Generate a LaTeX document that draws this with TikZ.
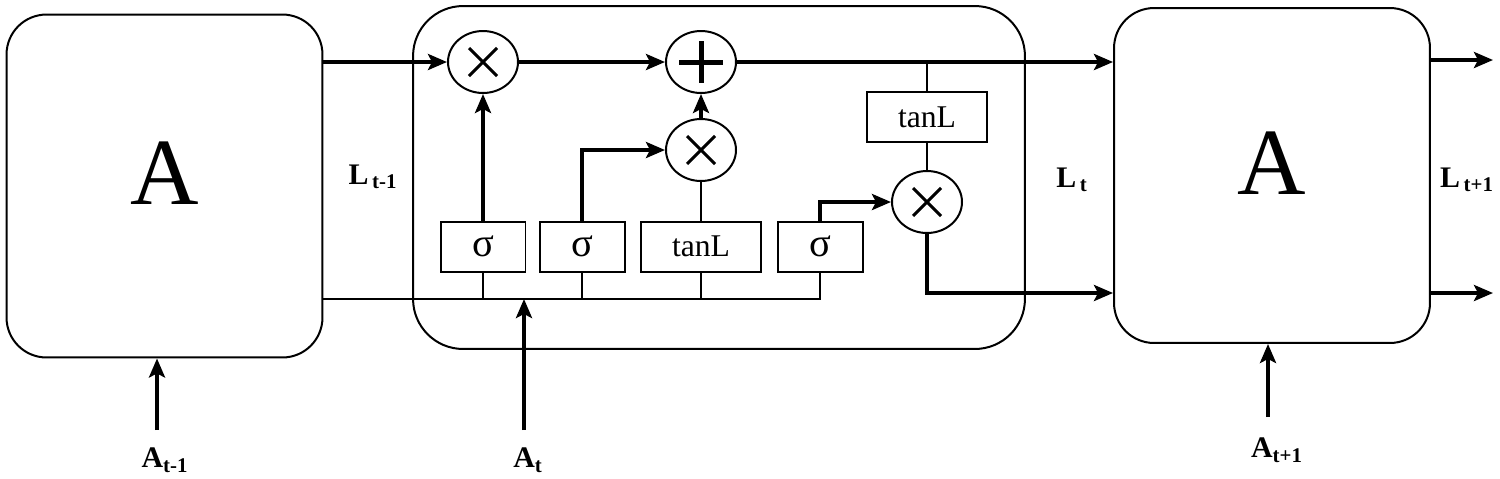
\documentclass[tikz,border=0pt]{standalone}
\usepackage{fontspec}
\setmainfont{Liberation Serif}
\usetikzlibrary{positioning,arrows.meta,shapes.geometric}

\tikzset{
  cell/.style={rectangle, rounded corners=0.8cm, draw, line width=0.04cm, minimum width=6.32cm, minimum height=6.86cm, text depth=0.5cm, font=\fontsize{54}{60}\selectfont},
  gate/.style={rectangle, draw, line width=0.04cm, inner sep=0pt, minimum height=1cm, minimum width=1.7cm, font=\fontsize{23}{25}\selectfont},
  tanbox/.style={gate, minimum width=2.4cm, font=\fontsize{18}{20}\selectfont},
  opnode/.style={ellipse, draw, line width=0.04cm, inner sep=0pt, minimum width=1.4cm, minimum height=1.24cm},
  mulop/.style={opnode, path picture={\draw[line width=0.06cm] (path picture bounding box.center) +(-14,-14) -- +(14,14) +(-14,14) -- +(14,-14);}},
  addop/.style={opnode, path picture={\draw[line width=0.1cm] (path picture bounding box.center) +(-22,0) -- +(22,0) +(0,-21) -- +(0,21);}},
  lbl/.style={font=\fontsize{17}{20}\selectfont\bfseries},
  thinline/.style={line width=0.04cm},
  thickarrow/.style={line width=0.08cm, ->},
}

\begin{document}
\begin{tikzpicture}[x=0.02cm, y=-0.02cm, >={Stealth[length=0.38cm, width=0.32cm, inset=0.08cm]}]
    \useasboundingbox (0,0) rectangle (1500,478);

    % Repeating modules
    \node[cell] (boxL) at (164.5,186) {A};
    \node[cell, minimum height=6.7cm] (boxR) at (1272,175.5) {A};
    \node[draw, line width=0.04cm, rounded corners=1cm, minimum width=12.24cm, minimum height=6.86cm] (core) at (719,177.5) {};

    % Pointwise operations
    \node[mulop] (m1) at (483,62) {};
    \node[addop] (ad) at (701,62) {};
    \node[mulop] (m2) at (701,150) {};
    \node[mulop] (m3) at (927,202) {};

    % Layers
    \node[gate] (s1) at (483,246.5) {σ};
    \node[gate] (s2) at (582,246.5) {σ};
    \node[tanbox] (tb) at (701,246.5) {tanL};
    \node[gate] (s3) at (820,246.5) {σ};
    \node[tanbox] (tt) at (927,117) {tanL};

    % Labels
    \node[lbl] (lprev) at (373,177) {L\textsubscript{\,t-1}};
    \node[lbl] (lcur) at (1072,180) {L\textsubscript{\,t}};
    \node[lbl] (lnext) at (1467,180) {L\textsubscript{\,t+1}};
    \node[lbl] (xprev) at (165,460) {A\textsubscript{t-1}};
    \node[lbl] (xcur) at (528,460) {A\textsubscript{t}};
    \node[lbl] (xnext) at (1277,450) {A\textsubscript{t+1}};

    \coordinate (bus) at (820,299);
    \coordinate (low) at (0,293);
    \coordinate (outT) at (1493,60);
    \coordinate (outB) at (1493,293);
    \coordinate (inL) at (157,430);
    \coordinate (inT) at (524,430);
    \coordinate (inR) at (1268,417);

    % Cell state
    \draw[thickarrow] (m1.west -| boxL.east) -- (m1);
    \draw[thickarrow] (m1) -- (ad);
    \draw[thickarrow] (ad) -- (ad -| boxR.west);
    \draw[thinline] (ad -| tt) -- (tt) -- (m3);
    \draw[thickarrow] (m3) |- (boxR.west |- low);

    % Input bus
    \draw[thinline] (s3) -- (bus) -- (bus -| boxL.east);
    \foreach \g in {s1,s2,tb}
        \draw[thinline] (\g) -- (\g |- bus);

    % Gates
    \draw[thickarrow] (s1) -- (m1);
    \draw[thickarrow] (s2) |- (m2);
    \draw[thinline] (tb) -- (m2);
    \draw[thickarrow] (m2) -- (ad);
    \draw[thickarrow] (s3) |- (m3);

    % Outputs and inputs
    \draw[thickarrow] (outT -| boxR.east) -- (outT);
    \draw[thickarrow] (outB -| boxR.east) -- (outB);
    \draw[thickarrow] (inL) -- (inL |- boxL.south);
    \draw[thickarrow] (inT) -- (inT |- bus);
    \draw[thickarrow] (inR) -- (inR |- boxR.south);
\end{tikzpicture}
\end{document}
